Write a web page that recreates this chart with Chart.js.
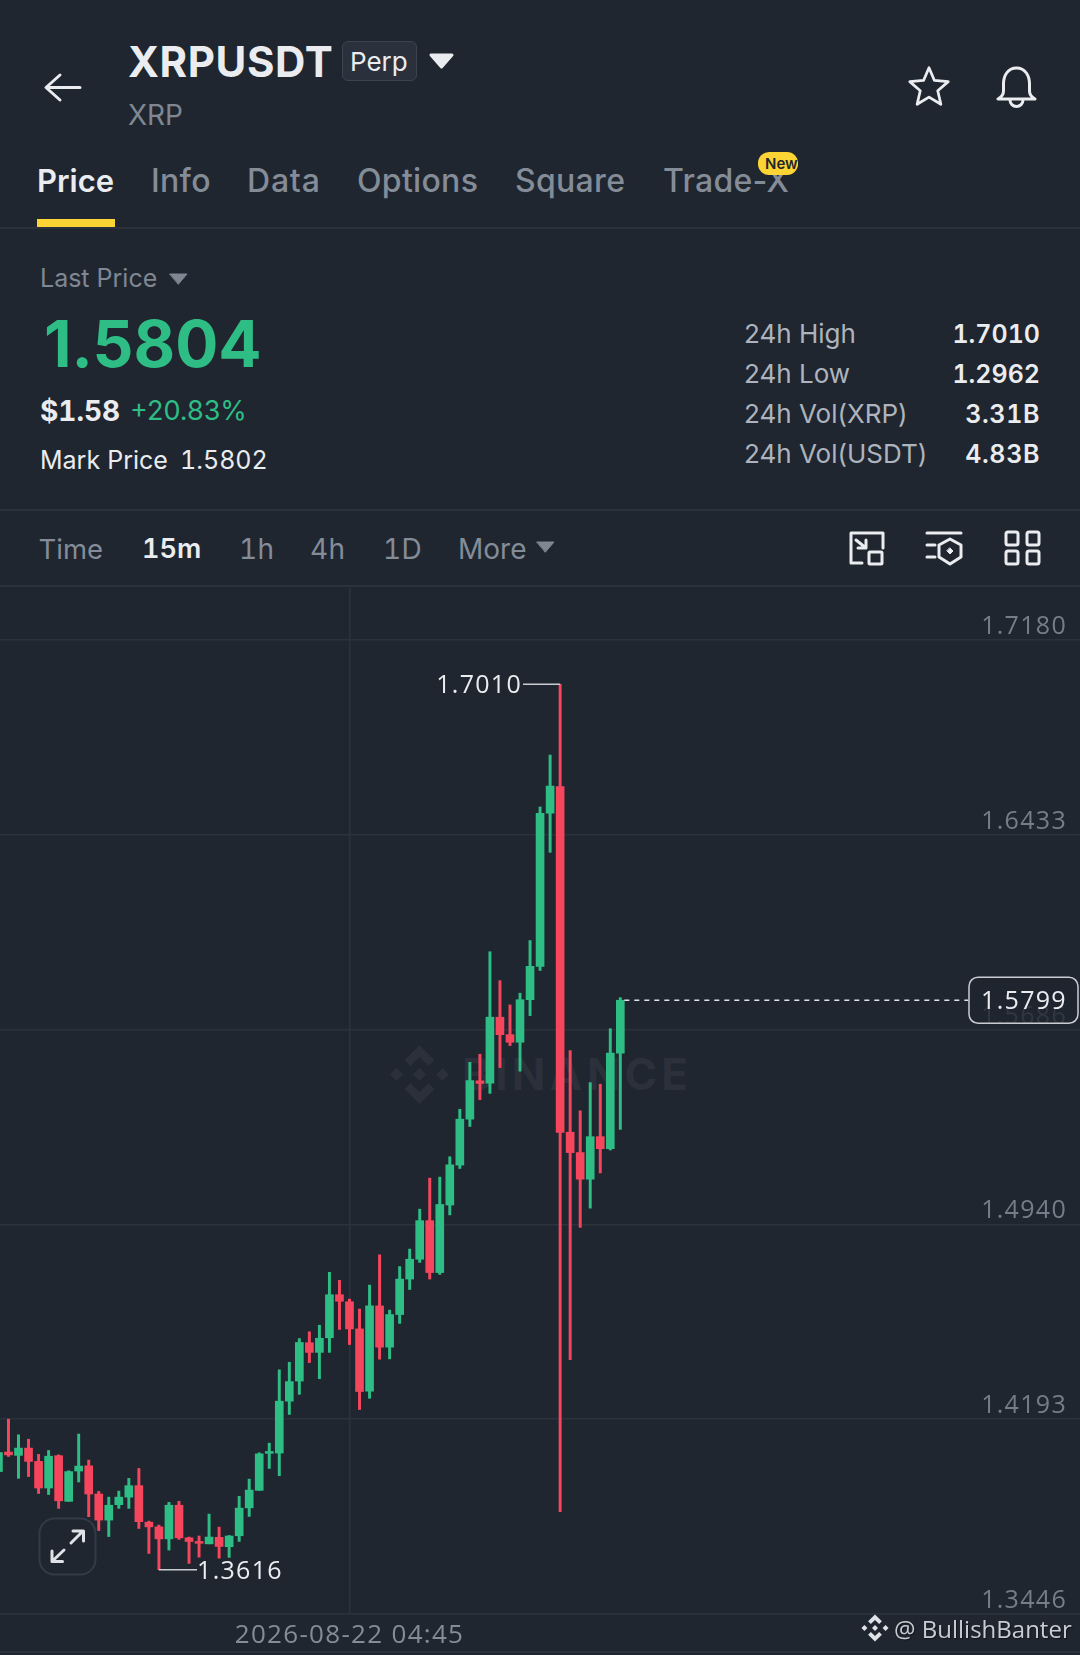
<!DOCTYPE html>
<html>
<head>
<meta charset="utf-8">
<title>XRPUSDT</title>
<script src="https://cdn.jsdelivr.net/npm/chart.js@4"></script>
<style>
    html, body { margin: 0; padding: 0; background: #1f2630; }
    #page { position: relative; width: 1080px; height: 1655px; overflow: hidden; background: #1f2630; font-family: Inter, sans-serif; }
    #page > span { position: absolute; white-space: nowrap; }
    .line { position: absolute; left: 0; width: 1080px; height: 1.5px; background: #2c323d; }
    .tab { top: 164.5px; font-size: 32px; line-height: 32px; letter-spacing: 0.3px; color: #848c98; font-weight: 500; }
    .stat { font-size: 26px; line-height: 26px; color: #aeb4bd; left: 744px; }
    .val { font-size: 25px; line-height: 26px; color: #eaecef; right: 40px; font-weight: 600; font-variant-numeric: tabular-nums; }
    .tf { top: 535px; font-size: 28px; line-height: 28px; color: #848c98; font-variant-numeric: tabular-nums; letter-spacing: 0.3px; }
    svg { position: absolute; left: 0; top: 0; }
    canvas { position: absolute; left: 0; top: 588px; }
</style>
</head>
<body>
<div id="page">
    <svg width="1080" height="1655" style="z-index:0">
        <defs>
            <g id="bnb">
                <path d="M0 -29.5 L15 -14.5 L9 -8.5 L0 -17.5 L-9 -8.5 L-15 -14.5 Z"/>
                <path d="M0 29.5 L15 14.5 L9 8.5 L0 17.5 L-9 8.5 L-15 14.5 Z"/>
                <path d="M0 -6.5 L6.5 0 L0 6.5 L-6.5 0 Z"/>
                <path d="M-23 -6.5 L-16.5 0 L-23 6.5 L-29.5 0 Z"/>
                <path d="M23 -6.5 L29.5 0 L23 6.5 L16.5 0 Z"/>
            </g>
        </defs>
        <use href="#bnb" transform="translate(419.5,1074.5)" fill="#2b303b"/>
    </svg>
    <span style="left:462px;top:1052px;font-size:44px;line-height:44px;font-weight:700;letter-spacing:4.2px;color:#2b303b">BINANCE</span>

    <span style="left:128px;top:41px;font-size:42px;line-height:42px;font-weight:700;letter-spacing:0.6px;color:#eaecef">XRPUSDT</span>
    <div style="position:absolute;left:342px;top:41px;width:73px;height:38px;background:#2b313c;border:1px solid #3c424e;border-radius:6px"></div>
    <span style="left:350px;top:49px;font-size:26px;line-height:26px;color:#eaecef">Perp</span>
    <span style="left:128px;top:100.5px;font-size:28px;line-height:28px;color:#7f8792">XRP</span>

    <span class="tab" style="left:37px;top:165px;font-size:31px;line-height:31px;letter-spacing:0;color:#eaecef;font-weight:600">Price</span>
    <span class="tab" style="left:151px">Info</span>
    <span class="tab" style="left:247px;letter-spacing:0.8px">Data</span>
    <span class="tab" style="left:357px">Options</span>
    <span class="tab" style="left:515px">Square</span>
    <span class="tab" style="left:663px">Trade-X</span>
    <div style="position:absolute;left:758px;top:152px;width:40px;height:23px;background:#fcd535;border-radius:11px"></div>
    <span style="left:765px;top:156px;font-size:15px;line-height:15px;font-weight:600;color:#1f2630">New</span>
    <div style="position:absolute;left:37px;top:219px;width:78px;height:8px;background:#fcd535"></div>
    <div class="line" style="top:227px"></div>

    <span style="left:40px;top:265.5px;font-size:25px;line-height:25px;color:#7f8793">Last Price</span>
    <span style="left:44px;top:311.5px;font-size:64px;line-height:64px;font-weight:700;color:#2ebd85">1.5804</span>
    <span style="left:40px;top:396.5px;font-size:28px;line-height:28px;font-weight:700;font-variant-numeric:tabular-nums;color:#eaecef">$1.58</span>
    <span style="left:130px;top:397px;font-size:27px;line-height:27px;color:#2ebd85">+20.83%</span>
    <span style="left:40px;top:447px;font-size:25px;line-height:26px;color:#eaecef">Mark Price</span>
    <span style="left:180px;top:447px;font-size:25px;line-height:26px;font-variant-numeric:tabular-nums;color:#eaecef">1.5802</span>

    <span class="stat" style="top:321px">24h High</span>
    <span class="stat" style="top:361px">24h Low</span>
    <span class="stat" style="top:401px">24h Vol(XRP)</span>
    <span class="stat" style="top:441px">24h Vol(USDT)</span>
    <span class="val" style="top:321px">1.7010</span>
    <span class="val" style="top:361px">1.2962</span>
    <span class="val" style="top:401px;letter-spacing:0.6px">3.31B</span>
    <span class="val" style="top:441px;letter-spacing:0.6px">4.83B</span>

    <div class="line" style="top:509px"></div>
    <span class="tf" style="left:38.5px;font-size:27.5px;letter-spacing:0">Time</span>
    <span class="tf" style="left:142px;font-size:27px;letter-spacing:0;color:#eaecef;font-weight:600">15m</span>
    <span class="tf" style="left:239px">1h</span>
    <span class="tf" style="left:310px">4h</span>
    <span class="tf" style="left:383px">1D</span>
    <span class="tf" style="left:458px;letter-spacing:0">More</span>
    <div class="line" style="top:585px;height:2px"></div>

    <canvas id="myChart" width="1080" height="1067" style="z-index:1"></canvas>

    <div class="line" style="top:1651px"></div>
    <span style="left:894px;top:1616px;font-size:24px;line-height:26px;color:#c9cdd3;font-family:'Open Sans';text-shadow:1px 1px 1px #11151b;z-index:3">@ BullishBanter</span>

    <svg width="1080" height="1655" style="z-index:2" fill="none" stroke="#eaecef" stroke-width="3" stroke-linecap="round" stroke-linejoin="round">
        <path d="M80 87.5 H47 M60 75 L46 87.5 L60 100"/>
        <path d="M431 55 H452 L441.5 67 Z" fill="#eaecef"/>
        <polygon transform="translate(929,87) scale(0.92) translate(-929,-87)" points="929,66 934.9,79.9 949.9,81.2 938.5,91.1 941.9,105.8 929,98 916.1,105.8 919.5,91.1 908.1,81.2 923.1,79.9"/>
        <path d="M1016.5 68 c-9 0 -13 8 -13 16 v7 c0 4 -2 6 -5.5 8 h37 c-3.5 -2 -5.5 -4 -5.5 -8 v-7 c0 -8 -4 -16 -13 -16 z"/>
        <path d="M1010 100 a6.5 6.5 0 0 0 13 0"/>
        <path d="M170 274 H187 L178.5 284 Z" fill="#7f8793" stroke="#7f8793" stroke-width="1"/>
        <path d="M537 542 H554 L545.5 552 Z" fill="#7f8793" stroke="#7f8793" stroke-width="1"/>

        <path d="M883 548 V533 H851 V563 H862"/>
        <rect x="869" y="552" width="13" height="12" rx="1"/>
        <path d="M856 540 L866 548 M866 540 V548 H858"/>
        <path d="M927 533 H961 M927 545 H935 M927 557 H935"/>
        <path d="M950 539 L961 545 V557 L950 564 L939 557 V545 Z"/>
        <path d="M950 548 L953 551 L950 554 L947 551 Z" fill="#eaecef" stroke-width="1"/>
        <rect x="1006" y="532" width="12" height="13" rx="2"/>
        <rect x="1027" y="532" width="12" height="13" rx="2"/>
        <rect x="1006" y="551" width="12" height="13" rx="2"/>
        <rect x="1027" y="551" width="12" height="13" rx="2"/>

        <rect x="39.5" y="1518.5" width="56" height="56" rx="15" stroke="#343a46" stroke-width="2" fill="#1f2630" fill-opacity="0.6"/>
        <path d="M71 1543 L83 1531 M73 1531 H83.5 V1541 M64 1550 L52 1561.5 M52 1551 V1561.5 H62.5" stroke="#dfe2e6"/>

        <use href="#bnb" transform="translate(875,1628) scale(0.46)" fill="#dfe2e6" stroke="none"/>
    </svg>
</div>

<script>
const open = [1.3992, 1.4067, 1.4054, 1.4082, 1.4031, 1.3929, 1.4053, 1.3878, 1.3994, 1.4014,
    1.3906, 1.3806, 1.3865, 1.3894, 1.3938, 1.3798, 1.3780, 1.3734, 1.3863, 1.3738,
    1.3724, 1.3715, 1.3740, 1.3704, 1.3746, 1.3853, 1.3920, 1.4062, 1.4063, 1.4262,
    1.4339, 1.4486, 1.4449, 1.4505, 1.4670, 1.4643, 1.4539, 1.4300, 1.4627, 1.4469,
    1.4594, 1.4730, 1.4806, 1.4954, 1.4755, 1.5014, 1.5167, 1.5343, 1.5490, 1.5481,
    1.5734, 1.5667, 1.5638, 1.5801, 1.5929, 1.6516, 1.6618, 1.5293, 1.5215, 1.5113,
    1.5276, 1.5230, 1.5596];
const high = [1.4069, 1.4193, 1.4133, 1.4116, 1.4058, 1.4073, 1.4056, 1.3995, 1.4136, 1.4036,
    1.3916, 1.3894, 1.3917, 1.3966, 1.4004, 1.3802, 1.3787, 1.3874, 1.3878, 1.3741,
    1.3745, 1.3829, 1.3779, 1.3747, 1.3897, 1.3963, 1.4064, 1.4101, 1.4382, 1.4411,
    1.4502, 1.4528, 1.4553, 1.4756, 1.4725, 1.4653, 1.4615, 1.4707, 1.4823, 1.4611,
    1.4778, 1.4845, 1.4998, 1.5117, 1.5121, 1.5199, 1.5381, 1.5561, 1.5592, 1.5985,
    1.5874, 1.5781, 1.5826, 1.6028, 1.6540, 1.6739, 1.7010, 1.5606, 1.5375, 1.5483,
    1.5477, 1.5690, 1.5809];
const low = [1.3992, 1.4050, 1.3966, 1.3973, 1.3908, 1.3904, 1.3851, 1.3878, 1.3952, 1.3819,
    1.3766, 1.3743, 1.3851, 1.3851, 1.3774, 1.3678, 1.3616, 1.3691, 1.3732, 1.3640,
    1.3664, 1.3715, 1.3660, 1.3663, 1.3724, 1.3820, 1.3920, 1.4004, 1.3976, 1.4211,
    1.4288, 1.4410, 1.4348, 1.4449, 1.4537, 1.4479, 1.4230, 1.4273, 1.4423, 1.4424,
    1.4560, 1.4690, 1.4794, 1.4730, 1.4748, 1.4976, 1.5154, 1.5315, 1.5418, 1.5442,
    1.5541, 1.5625, 1.5527, 1.5740, 1.5913, 1.6366, 1.3838, 1.4421, 1.4928, 1.5002,
    1.5137, 1.5225, 1.5304];
const close = [1.4065, 1.4056, 1.4082, 1.4031, 1.3929, 1.4051, 1.3880, 1.3992, 1.4013, 1.3906,
    1.3806, 1.3863, 1.3894, 1.3938, 1.3800, 1.3780, 1.3734, 1.3863, 1.3738, 1.3724,
    1.3717, 1.3741, 1.3705, 1.3745, 1.3852, 1.3921, 1.4060, 1.4069, 1.4262, 1.4337,
    1.4487, 1.4449, 1.4503, 1.4670, 1.4645, 1.4539, 1.4299, 1.4627, 1.4469, 1.4594,
    1.4730, 1.4806, 1.4954, 1.4755, 1.5016, 1.5168, 1.5343, 1.5491, 1.5480, 1.5734,
    1.5667, 1.5638, 1.5801, 1.5929, 1.6516, 1.6620, 1.5292, 1.5215, 1.5113, 1.5276,
    1.5230, 1.5596, 1.5799];
const priceTicks = [1.7180, 1.6433, 1.5686, 1.4940, 1.4193, 1.3446];
const lastPrice = 1.5799;
const highMark = 1.7010;
const lowMark = 1.3616;
const timeTick = 35;
const timeLabel = '2026-08-22 04:45';

const GREEN = '#2ebd85';
const RED = '#f6465d';
const GRID = '#2c323d';
const colors = close.map((c, i) => c >= open[i] ? GREEN : RED);

// price labels and the boxed last price
const markers = {
    id: 'markers',
    beforeDraw(chart) {
        // the app's digits run wider than any installed font
        chart.ctx.letterSpacing = '1.3px';
    },
    afterDraw(chart) {
        const c = chart.ctx;
        const y = chart.scales.y;
        const x = chart.scales.x;
        c.save();
        c.textBaseline = 'middle';
        c.font = '25px "Open Sans"';
        c.fillStyle = '#eaecef';
        c.textAlign = 'right';
        c.fillText(highMark.toFixed(4), x.getPixelForValue(52.2), y.getPixelForValue(highMark) + 2);
        c.textAlign = 'left';
        c.fillText(lowMark.toFixed(4), x.getPixelForValue(19.8), y.getPixelForValue(lowMark) + 2);

        const py = y.getPixelForValue(lastPrice);
        c.beginPath();
        c.roundRect(969, py - 23, 109, 46, 9);
        c.fillStyle = 'rgba(31,38,48,0.8)';
        c.fill();
        c.lineWidth = 1.5;
        c.strokeStyle = '#c9cdd3';
        c.stroke();
        c.fillStyle = '#eaecef';
        c.textAlign = 'center';
        c.fillText(lastPrice.toFixed(4), 1024, py + 2);
        c.restore();
    }
};

new Chart(document.getElementById('myChart'), {
    data: {
        datasets: [{
            type: 'bar',
            data: close.map((_, i) => ({ x: i, y: [low[i], high[i]] })),
            backgroundColor: colors,
            barThickness: 2.3,
            grouped: false,
            order: 2
        }, {
            type: 'bar',
            data: close.map((c, i) => ({ x: i, y: [open[i], c] })),
            backgroundColor: colors,
            barThickness: 8,
            grouped: false,
            order: 1
        }, {
            type: 'line',
            data: [{ x: 62.4, y: lastPrice }, { x: 96.7, y: lastPrice }],
            borderColor: '#dfe2e6',
            borderWidth: 1.5,
            borderDash: [5, 5],
            pointRadius: 0,
            order: 0
        }, {
            type: 'line',
            data: [{ x: 52.3, y: highMark }, { x: 56, y: highMark }],
            borderColor: '#c9cdd3',
            borderWidth: 1.5,
            pointRadius: 0,
            order: 0
        }, {
            type: 'line',
            data: [{ x: 16, y: lowMark }, { x: 19.8, y: lowMark }],
            borderColor: '#c9cdd3',
            borderWidth: 1.5,
            pointRadius: 0,
            order: 0
        }]
    },
    options: {
        responsive: false,
        animation: false,
        events: [],
        layout: { autoPadding: false, padding: 0 },
        plugins: {
            legend: { display: false },
            tooltip: { enabled: false }
        },
        scales: {
            x: {
                type: 'linear',
                min: 0.1555,
                max: 107.83,
                offset: false,
                afterBuildTicks: (scale) => { scale.ticks = [{ value: timeTick }]; },
                afterFit: (scale) => { scale.height = 41; scale.paddingLeft = 0; scale.paddingRight = 0; },
                grid: { color: GRID, lineWidth: 1.5, tickLength: 0, offset: false },
                border: { color: GRID, width: 1.5 },
                ticks: {
                    color: '#848c98',
                    padding: 6,
                    maxRotation: 0,
                    autoSkip: false,
                    font: { size: 26, family: '"Open Sans"' },
                    callback: () => timeLabel
                }
            },
            y: {
                position: 'right',
                min: 1.3446,
                max: 1.73794,
                afterBuildTicks: (scale) => { scale.ticks = priceTicks.map(v => ({ value: v })); },
                // mirrored labels sit over the plot, keep the plot full width and full height
                afterFit: (scale) => { scale.width = 0; scale.paddingTop = 0; scale.paddingBottom = 0; },
                grid: { color: GRID, lineWidth: 1.5, tickLength: 0 },
                border: { display: false },
                ticks: {
                    mirror: true,
                    padding: -13,
                    autoSkip: false,
                    color: '#767d89',
                    font: { size: 25, family: '"Open Sans"', lineHeight: 1.05 },
                    callback: (v) => [v.toFixed(4), '']
                }
            }
        }
    },
    plugins: [markers]
});
</script>
</body>
</html>
